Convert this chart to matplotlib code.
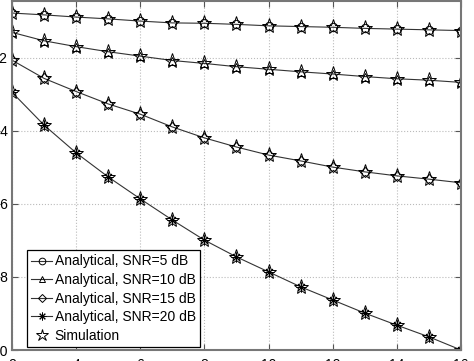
import matplotlib
matplotlib.use("Agg")
import matplotlib.pyplot as plt
import numpy as np

plt.rcParams['font.family'] = ['Liberation Sans', 'DejaVu Sans']

x = list(range(2, 17))
snr5 = [-0.77, -0.82, -0.88, -0.93, -0.99, -1.04, -1.05, -1.08, -1.12, -1.14,
        -1.16, -1.19, -1.21, -1.23, -1.25]
snr10 = [-1.30, -1.53, -1.69, -1.83, -1.95, -2.07, -2.15, -2.24, -2.31, -2.38,
         -2.44, -2.51, -2.57, -2.61, -2.67]
snr15 = [-2.06, -2.56, -2.92, -3.26, -3.54, -3.89, -4.19, -4.44, -4.66, -4.82,
         -4.99, -5.12, -5.23, -5.32, -5.42]
snr20 = [-2.94, -3.84, -4.60, -5.26, -5.86, -6.44, -6.99, -7.45, -7.86, -8.27,
         -8.63, -8.99, -9.32, -9.64, -10.00]

labels = ['Analytical, SNR=5 dB', 'Analytical, SNR=10 dB',
          'Analytical, SNR=15 dB', 'Analytical, SNR=20 dB', 'Simulation']
xticks = [2, 4, 6, 8, 10, 12, 14, 16]
yticks = [-10, -8, -6, -4, -2]

fig = plt.figure(figsize=(4.74, 3.61), dpi=100)
ax = fig.add_axes([12/474, 11/361, 449/474, 349/361])

lc = '#333333'
series = [snr5, snr10, snr15, snr20]
markers = ['o', '^', 'D', (8, 2, 0)]
msizes = [6, 6, 5, 7]
handles = []
for s, m, ms, lab in zip(series, markers, msizes, labels[:4]):
    h, = ax.plot(x, s, color=lc, lw=0.8, marker=m, ms=ms, mfc='none',
                 mec='black', mew=0.7, label=lab)
    handles.append(h)
for s in series:
    hs, = ax.plot(x, s, ls='none', marker='*', ms=11, mfc='none',
                  mec='black', mew=0.7, label=labels[4])
handles.append(hs)

ax.set_xlim(2, 16)
ax.set_ylim(-10, -0.44)
ax.set_xticks(xticks)
ax.set_xticklabels([str(t) for t in xticks])
ax.set_yticks(yticks)
ax.set_yticklabels(['\u2212' + str(-t) for t in yticks])
ax.tick_params(direction='in', labelsize=10, length=4, width=0.8,
               colors='#555555', labelcolor='black', pad=3,
               top=True, right=True)
ax.tick_params(axis='x', pad=6)
ax.grid(True, ls=':', color='#bbbbbb', lw=0.8)
for sp in ax.spines.values():
    sp.set_color('#777777')
    sp.set_linewidth(1.5)

leg = ax.legend(handles=handles, loc='lower left',
                bbox_to_anchor=(15/449, 3/349), fontsize=10,
                fancybox=False, edgecolor='black', framealpha=1,
                handlelength=1.5, handletextpad=0.2, borderpad=0.3,
                labelspacing=0.33, borderaxespad=0, markerscale=0.8)
leg.get_frame().set_linewidth(0.9)

fig.savefig('out.png', dpi=100)
